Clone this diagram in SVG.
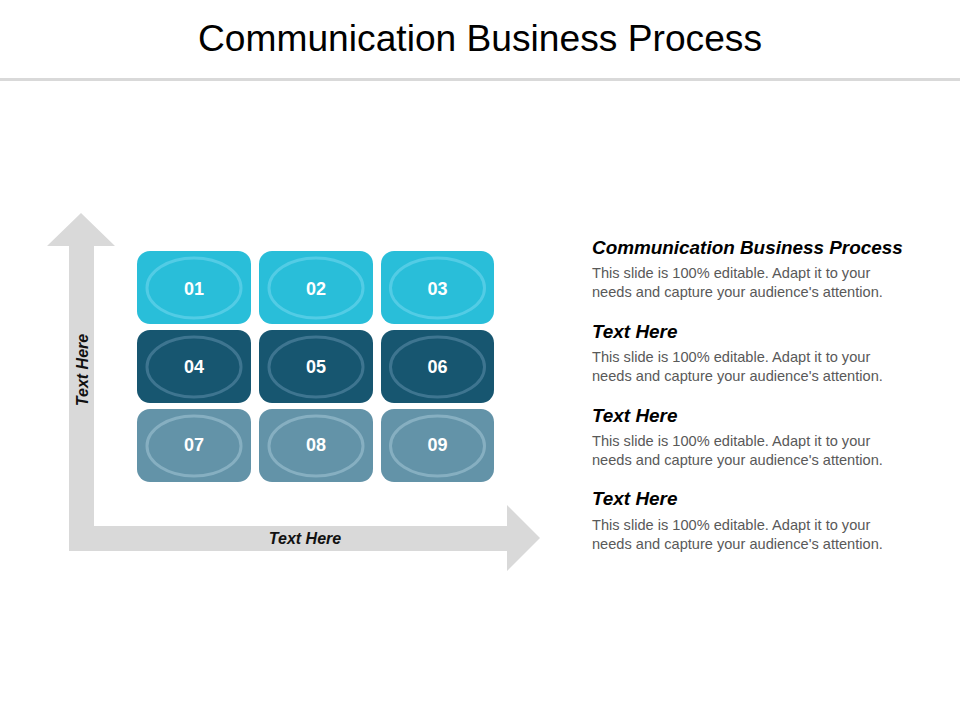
<svg xmlns="http://www.w3.org/2000/svg" width="960" height="720" viewBox="0 0 960 720">
<style>
.t{font-family:"Liberation Sans",Arial,sans-serif}
.num{font-family:"Liberation Sans",Arial,sans-serif;font-weight:bold;font-size:18px;fill:#fff;text-anchor:middle}
.hd{font-family:"Liberation Sans",Arial,sans-serif;font-weight:bold;font-style:italic;font-size:18.9px;fill:#000}
.bd{font-family:"Liberation Sans",Arial,sans-serif;font-size:14.6px;fill:#595959}
.ax{font-family:"Liberation Sans",Arial,sans-serif;font-weight:bold;font-style:italic;font-size:16px;fill:#111;text-anchor:middle}
.r1{fill:#29BED9}.r1e{fill:none;stroke:#52CCE5;stroke-width:3}
.r2{fill:#175670}.r2e{fill:none;stroke:#3E7590;stroke-width:3}
.r3{fill:#6393A8}.r3e{fill:none;stroke:#86AFC1;stroke-width:3}
</style>
<rect width="960" height="720" fill="#fff"/>
<text class="t" x="480" y="51" font-size="36" text-anchor="middle" fill="#000" textLength="564" lengthAdjust="spacingAndGlyphs">Communication Business Process</text>
<rect x="0" y="78" width="960" height="3" fill="#D9D9D9"/>
<g id="connectors">
<path d="M47,246 L81,213 L115,246 L94,246 L94,526 L507,526 L507,505 L540,538 L507,571 L507,551 L69,551 L69,246 Z" fill="#D9D9D9"/>
<text class="ax" x="305" y="544">Text Here</text>
<text class="ax" transform="translate(88,370) rotate(-90)">Text Here</text>
</g>
<g id="n01"><rect class="r1" x="137" y="251" width="114" height="73" rx="13"/><ellipse class="r1e" cx="194" cy="288" rx="47" ry="30"/><text class="num" x="194" y="295">01</text></g>
<g id="n02"><rect class="r1" x="259" y="251" width="114" height="73" rx="13"/><ellipse class="r1e" cx="316" cy="288" rx="47" ry="30"/><text class="num" x="316" y="295">02</text></g>
<g id="n03"><rect class="r1" x="381" y="251" width="113" height="73" rx="13"/><ellipse class="r1e" cx="437.5" cy="288" rx="47" ry="30"/><text class="num" x="437.5" y="295">03</text></g>
<g id="n04"><rect class="r2" x="137" y="330" width="114" height="73" rx="13"/><ellipse class="r2e" cx="194" cy="367" rx="47" ry="30"/><text class="num" x="194" y="373">04</text></g>
<g id="n05"><rect class="r2" x="259" y="330" width="114" height="73" rx="13"/><ellipse class="r2e" cx="316" cy="367" rx="47" ry="30"/><text class="num" x="316" y="373">05</text></g>
<g id="n06"><rect class="r2" x="381" y="330" width="113" height="73" rx="13"/><ellipse class="r2e" cx="437.5" cy="367" rx="47" ry="30"/><text class="num" x="437.5" y="373">06</text></g>
<g id="n07"><rect class="r3" x="137" y="409" width="114" height="73" rx="13"/><ellipse class="r3e" cx="194" cy="446" rx="47" ry="30"/><text class="num" x="194" y="451">07</text></g>
<g id="n08"><rect class="r3" x="259" y="409" width="114" height="73" rx="13"/><ellipse class="r3e" cx="316" cy="446" rx="47" ry="30"/><text class="num" x="316" y="451">08</text></g>
<g id="n09"><rect class="r3" x="381" y="409" width="113" height="73" rx="13"/><ellipse class="r3e" cx="437.5" cy="446" rx="47" ry="30"/><text class="num" x="437.5" y="451">09</text></g>
<g id="txt1"><text class="hd" x="592" y="254">Communication Business Process</text><text class="bd" x="592" y="278">This slide is 100% editable. Adapt it to your</text><text class="bd" x="592" y="297">needs and capture your audience's attention.</text></g>
<g id="txt2"><text class="hd" x="592" y="338">Text Here</text><text class="bd" x="592" y="362">This slide is 100% editable. Adapt it to your</text><text class="bd" x="592" y="381">needs and capture your audience's attention.</text></g>
<g id="txt3"><text class="hd" x="592" y="422">Text Here</text><text class="bd" x="592" y="446">This slide is 100% editable. Adapt it to your</text><text class="bd" x="592" y="465">needs and capture your audience's attention.</text></g>
<g id="txt4"><text class="hd" x="592" y="505">Text Here</text><text class="bd" x="592" y="530">This slide is 100% editable. Adapt it to your</text><text class="bd" x="592" y="549">needs and capture your audience's attention.</text></g>
</svg>
